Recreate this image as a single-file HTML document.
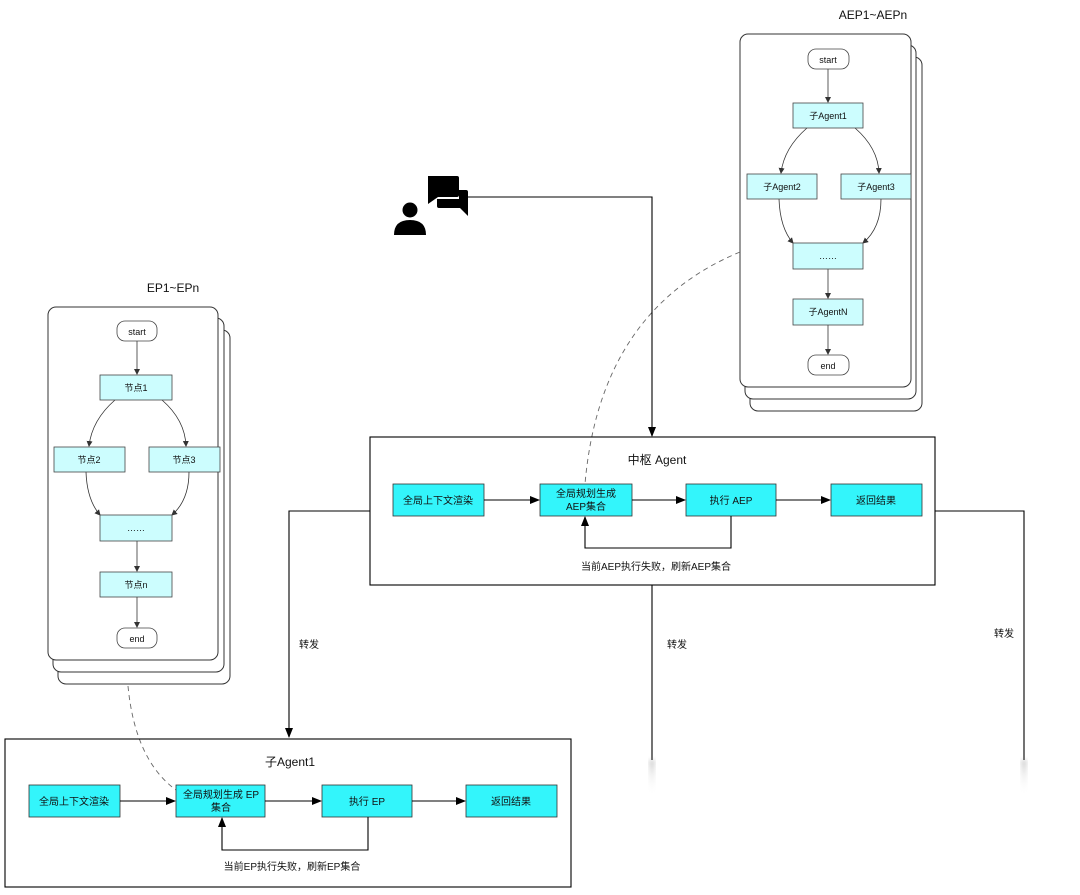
<!DOCTYPE html>
<html><head><meta charset="utf-8"><style>
html,body{margin:0;padding:0;background:#fff;}
svg{display:block;}
text{font-family:"Liberation Sans","Noto Sans CJK SC",sans-serif;fill:#111;}
</style></head><body>
<svg width="1080" height="895" viewBox="0 0 1080 895" xmlns="http://www.w3.org/2000/svg">
<defs>
<marker id="a" markerWidth="10" markerHeight="8" refX="9" refY="4" orient="auto" markerUnits="userSpaceOnUse"><path d="M0,0L10,4L0,8z" fill="#000"/></marker>
<marker id="s" markerWidth="6" markerHeight="6" refX="5" refY="3" orient="auto" markerUnits="userSpaceOnUse"><path d="M0,0L6,3L0,6z" fill="#333"/></marker>
<linearGradient id="fade" x1="0" y1="0" x2="0" y2="1"><stop offset="0" stop-color="#777"/><stop offset="1" stop-color="#fff" stop-opacity="0"/></linearGradient>
<filter id="bl"><feGaussianBlur stdDeviation="2"/></filter>
</defs>

<!-- EP stack -->
<g fill="#fff" stroke="#333" stroke-width="1">
<rect x="58" y="330" width="172" height="354" rx="8"/>
<rect x="53" y="318" width="171" height="354" rx="8"/>
<rect x="48" y="307" width="170" height="353" rx="8"/>
</g>
<text x="173" y="292" font-size="12" text-anchor="middle">EP1~EPn</text>
<g stroke="#333" stroke-width="0.8" fill="none">
<line x1="137" y1="341" x2="137" y2="374" marker-end="url(#s)"/>
<path d="M115,400 Q92,420 89,446" marker-end="url(#s)"/>
<path d="M162,400 Q185,420 186,446" marker-end="url(#s)"/>
<path d="M86,472 Q87,500 100,515" marker-end="url(#s)"/>
<path d="M189,472 Q189,500 172,515" marker-end="url(#s)"/>
<line x1="137" y1="541" x2="137" y2="571" marker-end="url(#s)"/>
<line x1="137" y1="597" x2="137" y2="627" marker-end="url(#s)"/>
</g>
<g stroke="#444" stroke-width="0.8" fill="#ccfdfe">
<rect x="117" y="321" width="40" height="20" rx="8" fill="#fff"/>
<rect x="100" y="375" width="72" height="25"/>
<rect x="54" y="447" width="71" height="25"/>
<rect x="149" y="447" width="71" height="25"/>
<rect x="100" y="515" width="72" height="26"/>
<rect x="100" y="572" width="72" height="25"/>
<rect x="117" y="628" width="40" height="20" rx="8" fill="#fff"/>
</g>
<g font-size="9" text-anchor="middle">
<text x="137" y="335">start</text>
<text x="136" y="391">节点1</text>
<text x="89" y="463">节点2</text>
<text x="184" y="463">节点3</text>
<text x="136" y="531">……</text>
<text x="136" y="588">节点n</text>
<text x="137" y="642">end</text>
</g>

<!-- AEP stack -->
<g fill="#fff" stroke="#333" stroke-width="1">
<rect x="750" y="57" width="172" height="354" rx="8"/>
<rect x="745" y="45" width="171" height="354" rx="8"/>
<rect x="740" y="34" width="171" height="353" rx="8"/>
</g>
<text x="873" y="19" font-size="12" text-anchor="middle">AEP1~AEPn</text>
<g stroke="#333" stroke-width="0.8" fill="none">
<line x1="828" y1="69" x2="828" y2="102" marker-end="url(#s)"/>
<path d="M807,128 Q784,148 781,173" marker-end="url(#s)"/>
<path d="M855,128 Q878,148 879,173" marker-end="url(#s)"/>
<path d="M779,199 Q780,228 793,243" marker-end="url(#s)"/>
<path d="M881,199 Q881,228 863,243" marker-end="url(#s)"/>
<line x1="828" y1="269" x2="828" y2="298" marker-end="url(#s)"/>
<line x1="828" y1="325" x2="828" y2="354" marker-end="url(#s)"/>
</g>
<g stroke="#444" stroke-width="0.8" fill="#ccfdfe">
<rect x="808" y="49" width="41" height="20" rx="8" fill="#fff"/>
<rect x="793" y="103" width="70" height="25"/>
<rect x="747" y="174" width="70" height="25"/>
<rect x="841" y="174" width="70" height="25"/>
<rect x="793" y="243" width="70" height="26"/>
<rect x="793" y="299" width="70" height="26"/>
<rect x="808" y="355" width="41" height="20" rx="8" fill="#fff"/>
</g>
<g font-size="9" text-anchor="middle">
<text x="828" y="63">start</text>
<text x="828" y="119">子Agent1</text>
<text x="782" y="190">子Agent2</text>
<text x="876" y="190">子Agent3</text>
<text x="828" y="259">……</text>
<text x="828" y="315">子AgentN</text>
<text x="828" y="369">end</text>
</g>

<!-- dashed curves -->
<path d="M740,252 Q600,310 585,484" fill="none" stroke="#666" stroke-width="0.9" stroke-dasharray="5,4"/>
<path d="M128,686 Q135,760 176,790" fill="none" stroke="#666" stroke-width="0.9" stroke-dasharray="5,4"/>

<!-- user icon -->
<g fill="#000">
<circle cx="410" cy="210" r="7.5"/>
<path d="M394,235 Q394,220 410,220 Q426,220 426,235 Z"/>
<path d="M428,176 H457 Q459,176 459,178 V195 Q459,197 457,197 H438 L428,204 Z"/>
<path d="M437,199 H459 V190 H466 Q468,190 468,192 V216 L460,208 H439 Q437,208 437,206 Z"/>
</g>

<!-- connectors -->
<g stroke="#000" stroke-width="1.1" fill="none">
<polyline points="466,197 652,197 652,436" marker-end="url(#a)"/>
<polyline points="370,511 289,511 289,737" marker-end="url(#a)"/>
<polyline points="935,511 1024,511 1024,760"/>
<line x1="652" y1="585" x2="652" y2="760"/>
</g>
<rect x="649" y="760" width="6" height="35" fill="url(#fade)" opacity="0.35" filter="url(#bl)"/>
<rect x="1021" y="760" width="6" height="35" fill="url(#fade)" opacity="0.35" filter="url(#bl)"/>
<g font-size="10" text-anchor="middle">
<text x="309" y="648">转发</text>
<text x="677" y="648">转发</text>
<text x="1004" y="637">转发</text>
</g>

<!-- central box -->
<rect x="370" y="437" width="565" height="148" fill="none" stroke="#000" stroke-width="1.1"/>
<text x="657" y="464" font-size="12" text-anchor="middle">中枢 Agent</text>
<g fill="#33f5fb" stroke="#333" stroke-width="0.8">
<rect x="393" y="484" width="91" height="32"/>
<rect x="540" y="484" width="92" height="32"/>
<rect x="686" y="484" width="90" height="32"/>
<rect x="831" y="484" width="91" height="32"/>
</g>
<g stroke="#000" stroke-width="1.1" fill="none">
<line x1="484" y1="500" x2="539" y2="500" marker-end="url(#a)"/>
<line x1="632" y1="500" x2="685" y2="500" marker-end="url(#a)"/>
<line x1="776" y1="500" x2="830" y2="500" marker-end="url(#a)"/>
<polyline points="731,516 731,548 585,548 585,517" marker-end="url(#a)"/>
</g>
<g font-size="10" text-anchor="middle">
<text x="438" y="504">全局上下文渲染</text>
<text x="586" y="497">全局规划生成</text>
<text x="586" y="510">AEP集合</text>
<text x="731" y="504">执行 AEP</text>
<text x="876" y="504">返回结果</text>
<text x="656" y="570">当前AEP执行失败，刷新AEP集合</text>
</g>

<!-- sub agent box -->
<rect x="5" y="739" width="566" height="148" fill="none" stroke="#000" stroke-width="1.1"/>
<text x="290" y="766" font-size="12" text-anchor="middle">子Agent1</text>
<g fill="#33f5fb" stroke="#333" stroke-width="0.8">
<rect x="29" y="785" width="91" height="32"/>
<rect x="176" y="785" width="89" height="32"/>
<rect x="322" y="785" width="90" height="32"/>
<rect x="466" y="785" width="91" height="32"/>
</g>
<g stroke="#000" stroke-width="1.1" fill="none">
<line x1="120" y1="801" x2="175" y2="801" marker-end="url(#a)"/>
<line x1="265" y1="801" x2="321" y2="801" marker-end="url(#a)"/>
<line x1="412" y1="801" x2="465" y2="801" marker-end="url(#a)"/>
<polyline points="368,817 368,850 222,850 222,818" marker-end="url(#a)"/>
</g>
<g font-size="10" text-anchor="middle">
<text x="74" y="805">全局上下文渲染</text>
<text x="221" y="798">全局规划生成 EP</text>
<text x="221" y="811">集合</text>
<text x="367" y="805">执行 EP</text>
<text x="511" y="805">返回结果</text>
<text x="292" y="870">当前EP执行失败，刷新EP集合</text>
</g>
</svg>
</body></html>
